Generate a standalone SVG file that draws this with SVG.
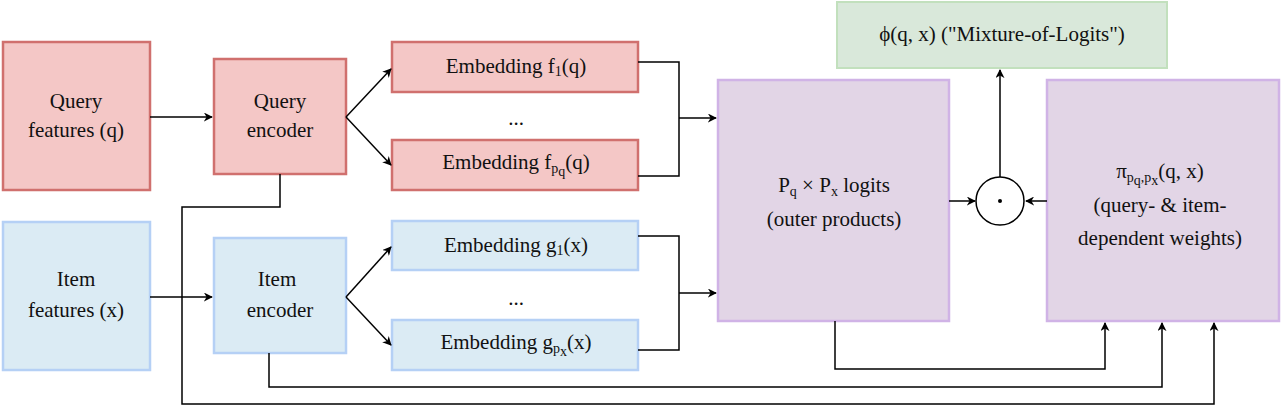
<svg xmlns="http://www.w3.org/2000/svg" width="1281" height="406" viewBox="0 0 1281 406">
<style>
text{font-family:"Liberation Serif","Times New Roman",serif;font-size:21px;fill:#111;text-anchor:middle;dominant-baseline:middle}
.r{fill:#f4c7c6;stroke:#d0706e;stroke-width:2.5}
.b{fill:#dbebf4;stroke:#b5d0f5;stroke-width:2.5}
.p{fill:#e2d5e6;stroke:#d0b3e6;stroke-width:2.5}
.g{fill:#d9e8da;stroke:#c2e0bd;stroke-width:2}
.c{fill:none;stroke:#000;stroke-width:1.5}
.s{font-size:14px}
</style>
<defs><marker id="a" viewBox="0 0 10 10" refX="9" refY="5" markerWidth="9" markerHeight="9" markerUnits="userSpaceOnUse" orient="auto"><path d="M0,0L10,5L0,10L3,5z" fill="#000"/></marker></defs>
<g id="qf"><rect class="r" x="3" y="42" width="147" height="148"/><text x="76" y="103">Query</text><text x="76" y="132">features (q)</text></g>
<g id="qe"><rect class="r" x="214" y="59" width="132" height="115"/><text x="280" y="103">Query</text><text x="280" y="132">encoder</text></g>
<g id="f1"><rect class="r" x="392" y="42" width="246" height="50"/><text x="516" y="68">Embedding f<tspan class="s" dy="5">1</tspan><tspan dy="-5">(q)</tspan></text></g>
<g id="fdots"><text x="516" y="120">...</text></g>
<g id="fp"><rect class="r" x="392" y="140" width="246" height="50"/><text x="516" y="164">Embedding f<tspan class="s" dy="6">p</tspan><tspan class="s" font-size="11" dy="3">q</tspan><tspan dy="-9">(q)</tspan></text></g>
<g id="if"><rect class="b" x="3" y="222" width="147" height="148"/><text x="76" y="281">Item</text><text x="76" y="312">features (x)</text></g>
<g id="ie"><rect class="b" x="214" y="238" width="132" height="115"/><text x="277" y="281">Item</text><text x="280" y="312">encoder</text></g>
<g id="g1"><rect class="b" x="392" y="221" width="246" height="49"/><text x="516" y="247">Embedding g<tspan class="s" dy="5">1</tspan><tspan dy="-5">(x)</tspan></text></g>
<g id="gdots"><text x="516" y="300">...</text></g>
<g id="gp"><rect class="b" x="392" y="320" width="246" height="50"/><text x="516" y="344">Embedding g<tspan class="s" dy="6">p</tspan><tspan class="s" font-size="11" dy="3">x</tspan><tspan dy="-9">(x)</tspan></text></g>
<g id="pl"><rect class="p" x="718" y="80" width="231" height="241"/><text x="834" y="187">P<tspan class="s" dy="6">q</tspan><tspan dy="-6"> × P</tspan><tspan class="s" dy="6">x</tspan><tspan dy="-6"> logits</tspan></text><text x="834" y="221">(outer products)</text></g>
<g id="pi"><rect class="p" x="1047" y="80" width="232" height="241"/><text x="1160" y="173">π<tspan class="s" dy="6">p</tspan><tspan class="s" font-size="11" dy="3">q</tspan><tspan class="s" dy="-3">,p</tspan><tspan class="s" font-size="11" dy="3">x</tspan><tspan dy="-9">(q, x)</tspan></text><text x="1160" y="207">(query- &amp; item-</text><text x="1160" y="240">dependent weights)</text></g>
<g id="phi"><rect class="g" x="837" y="2" width="330" height="66"/><text x="1002" y="36">ϕ(q, x) ("Mixture-of-Logits")</text></g>
<g id="dot"><circle cx="1000" cy="201" r="24" fill="#fff" stroke="#000" stroke-width="1.5"/><circle cx="1000" cy="201" r="2" fill="#000"/></g>
<g id="connectors" class="c">
<path class="c" d="M150,117H212" marker-end="url(#a)"/>
<path class="c" d="M346,117L391,69" marker-end="url(#a)"/>
<path class="c" d="M346,117L391,165" marker-end="url(#a)"/>
<path class="c" d="M150,297H212" marker-end="url(#a)"/>
<path class="c" d="M346,297L391,247" marker-end="url(#a)"/>
<path class="c" d="M346,297L391,345" marker-end="url(#a)"/>
<path class="c" d="M638,62H679V176H638"/>
<path class="c" d="M679,118H716" marker-end="url(#a)"/>
<path class="c" d="M638,236H679V350H638"/>
<path class="c" d="M679,293H716" marker-end="url(#a)"/>
<path class="c" d="M949,201H975" marker-end="url(#a)"/>
<path class="c" d="M1047,201H1026" marker-end="url(#a)"/>
<path class="c" d="M1000,177V70" marker-end="url(#a)"/>
<path class="c" d="M835,321V369H1105V323" marker-end="url(#a)"/>
<path class="c" d="M269,353V387H1162V323" marker-end="url(#a)"/>
<path class="c" d="M280,174V207H182V404H1214V323" marker-end="url(#a)"/>
</g>
</svg>
